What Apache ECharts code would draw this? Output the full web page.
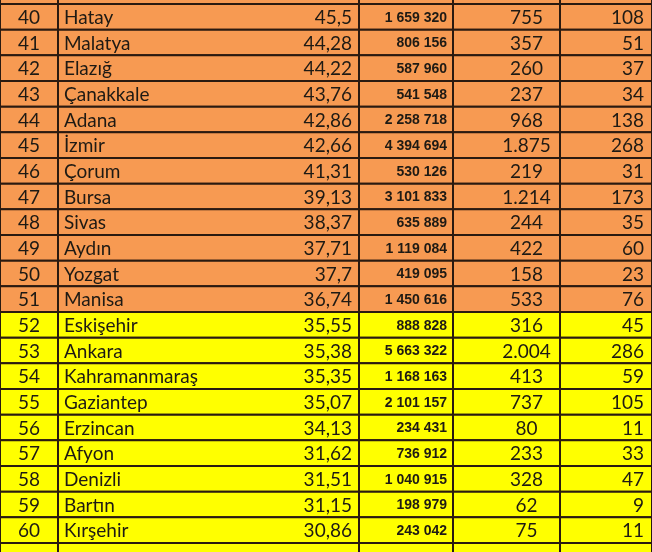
<!DOCTYPE html>
<html>
<head>
<meta charset="utf-8">
<script src="https://cdn.jsdelivr.net/npm/echarts@6/dist/echarts.min.js"></script>
<style>html,body{margin:0;padding:0;background:#fff}#main{width:652px;height:552px}</style>
</head>
<body>
<div id="main"></div>
<script>
// tablo verileri
var ranks = [40, 41, 42, 43, 44, 45, 46, 47, 48, 49, 50, 51, 52, 53, 54, 55, 56, 57, 58, 59, 60];
var cities = ["Hatay", "Malatya", "Elazığ", "Çanakkale", "Adana", "İzmir", "Çorum", "Bursa", "Sivas", "Aydın", "Yozgat", "Manisa",
  "Eskişehir", "Ankara", "Kahramanmaraş", "Gaziantep", "Erzincan", "Afyon", "Denizli", "Bartın", "Kırşehir"];
var rates = ["45,5", "44,28", "44,22", "43,76", "42,86", "42,66", "41,31", "39,13", "38,37", "37,71", "37,7", "36,74",
  "35,55", "35,38", "35,35", "35,07", "34,13", "31,62", "31,51", "31,15", "30,86"];
var population = ["1 659 320", "806 156", "587 960", "541 548", "2 258 718", "4 394 694", "530 126", "3 101 833", "635 889", "1 119 084", "419 095", "1 450 616",
  "888 828", "5 663 322", "1 168 163", "2 101 157", "234 431", "736 912", "1 040 915", "198 979", "243 042"];
var colA = ["755", "357", "260", "237", "968", "1.875", "219", "1.214", "244", "422", "158", "533",
  "316", "2.004", "413", "737", "80", "233", "328", "62", "75"];
var colB = ["108", "51", "37", "34", "138", "268", "31", "173", "35", "60", "23", "76",
  "45", "286", "59", "105", "11", "33", "47", "9", "11"];

var ORANGE = "#F79A52", YELLOW = "#FFFF00";
var edges = [0, 58, 359, 453, 560, 652];

// satır listesi: üstte ve altta yarım görünen satırlar da var
var rows = [[-1, 39]];
for (var i = 0; i < ranks.length; i++) rows.push([i, ranks[i]]);
rows.push([ranks.length, 61]);

var myChart = echarts.init(document.getElementById("main"));

function renderItem(params, api) {
  var idx = api.value(0), rank = api.value(1);
  var y0 = api.coord([0, idx])[1], y1 = api.coord([0, idx + 1])[1];
  var fill = rank <= 51 ? ORANGE : YELLOW;
  var ch = [];
  var x = edges.map(function (e) { return api.coord([e, 0])[0]; });
  ch.push({ type: "rect", shape: { x: x[0], y: y0, width: x[5] - x[0], height: y1 - y0 }, style: { fill: fill, stroke: "#2a1a10", lineWidth: 2 } });
  for (var k = 1; k < 5; k++) {
    ch.push({ type: "line", shape: { x1: x[k], y1: y0, x2: x[k], y2: y1 }, style: { stroke: "#2a1a10", lineWidth: 2 } });
  }
  var d = idx >= 0 && idx < ranks.length;
  if (d) {
    var cy = (y0 + y1) / 2 + 1;
    var base = { fill: "#1e1a14", font: "19px Lato, 'Open Sans', sans-serif", verticalAlign: "middle" };
    function t(txt, px, align, font) {
      ch.push({ type: "text", style: Object.assign({}, base, { text: txt, x: px, y: cy, align: align }, font ? { font: font } : {}) });
    }
    t(String(rank), (x[0] + x[1]) / 2, "center");
    t(cities[idx], x[1] + 6, "left");
    t(rates[idx], x[2] - 7, "right");
    t(population[idx], x[3] - 6, "right", "bold 14px 'Liberation Sans', Arial, sans-serif");
    t(colA[idx], (x[3] + x[4]) / 2 + 20, "center");
    t(colB[idx], x[5] - 8, "right");
  }
  return { type: "group", children: ch };
}

var option = {
  animation: false,
  grid: { left: 0, right: 0, top: 0, bottom: 0 },
  xAxis: { type: "value", min: 0, max: 652, show: false },
  yAxis: { type: "value", min: -0.156, max: 21.35, inverse: true, show: false },
  series: [{
    type: "custom",
    renderItem: renderItem,
    data: rows,
    clip: true
  }]
};
myChart.setOption(option);
</script>
</body>
</html>
